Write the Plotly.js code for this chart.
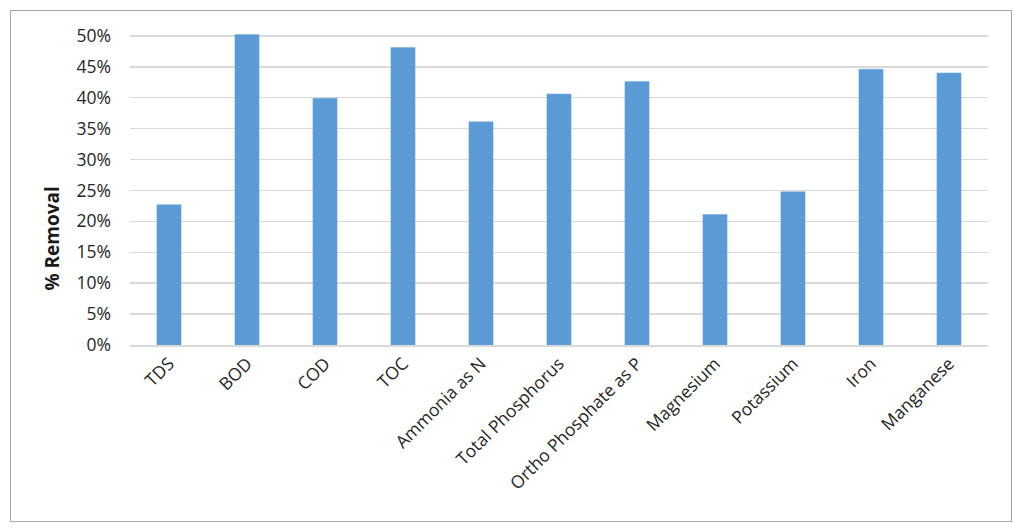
<!DOCTYPE html>
<html>
<head>
<meta charset="utf-8">
<script src="https://cdn.plot.ly/plotly-3.0.1.min.js"></script>
<style>
  body { margin: 0; background: #fff; }
  #frame {
    position: absolute; left: 10px; top: 10px;
    width: 1000px; height: 510px;
    border: 1.5px solid #a6a6a6;
  }
  #plot { width: 1000px; height: 510px; }
</style>
</head>
<body>
<div id="frame"><div id="plot"></div></div>
<script>
const categories = ['TDS', 'BOD', 'COD', 'TOC', 'Ammonia as N', 'Total Phosphorus',
    'Ortho Phosphate as P', 'Magnesium', 'Potassium', 'Iron', 'Manganese']
const removal = [22.7, 50.2, 39.9, 48.1, 36.1, 40.6, 42.6, 21.1, 24.8, 44.6, 44.0]
const yTicks = [0, 5, 10, 15, 20, 25, 30, 35, 40, 45, 50]

const trace = {
    x: categories,
    y: removal,
    type: 'bar',
    marker: { color: '#5b9bd5', line: { color: '#6fa8dc', width: 0.5 } },
    hoverinfo: 'x+y'
}

const layout = {
    width: 1000,
    height: 510,
    margin: { l: 119, r: 23, t: 23, b: 176 },
    paper_bgcolor: '#ffffff',
    plot_bgcolor: '#ffffff',
    font: { family: 'Open Sans, Lato, sans-serif', size: 17, color: '#262626' },
    bargap: 0.69,
    showlegend: false,
    xaxis: {
        tickangle: -45,
        showline: true,
        linecolor: '#d9d9d9',
        linewidth: 1.5,
        ticks: '',
        tickfont: { size: 17.5 }
    },
    yaxis: {
        range: [0, 50.3],
        tickvals: yTicks,
        ticktext: yTicks.map(function (v) { return v + '%' }),
        showgrid: true,
        gridcolor: '#d9d9d9',
        gridwidth: 1.5,
        zeroline: false,
        ticks: '',
        ticklabelstandoff: 18,
        tickfont: { size: 17.5 }
    },
    annotations: [{
        text: '<b>% Removal</b>',
        textangle: -90,
        xref: 'paper', yref: 'y',
        x: -0.091, y: 17.2,
        xanchor: 'center', yanchor: 'middle',
        showarrow: false,
        font: { size: 19, color: '#1a1a1a' }
    }]
}

Plotly.newPlot('plot', [trace], layout, { displayModeBar: false, staticPlot: true })
</script>
</body>
</html>
